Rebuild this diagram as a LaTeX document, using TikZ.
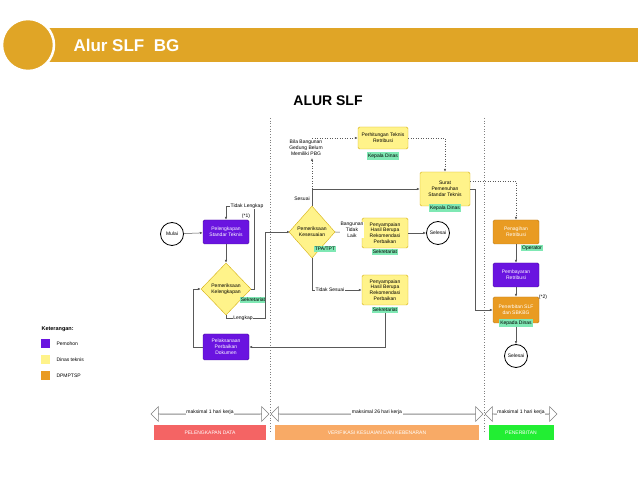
\documentclass[tikz,border=0pt]{standalone}
\usepackage{fontspec}
\setmainfont{Liberation Sans}
\usetikzlibrary{shapes.geometric,shapes.arrows,arrows.meta}
\definecolor{gold}{HTML}{E0A526}
\definecolor{purp}{HTML}{6A14E0}
\definecolor{yel}{HTML}{FFF38A}
\definecolor{yelb}{HTML}{D4AE10}
\definecolor{grn}{HTML}{7FE8B4}
\definecolor{org}{HTML}{E99B22}
\definecolor{redb}{HTML}{F46464}
\definecolor{orgb}{HTML}{F8AA66}
\definecolor{grnb}{HTML}{22EE33}
\begin{document}
\begin{tikzpicture}[x=1pt,y=-1pt,
 txt/.style={font=\fontsize{5}{5.8}\selectfont,align=center},
 pbox/.style={txt,rectangle,rounded corners=1.5pt,fill=purp,draw=purp!70!black,text=white,minimum width=46pt,inner sep=1pt},
 ybox/.style={txt,rectangle,rounded corners=1.5pt,fill=yel,draw=yelb,minimum width=50pt,inner sep=1pt},
 obox/.style={txt,rectangle,rounded corners=1.5pt,fill=org,draw=org!80!black,text=white,minimum width=46pt,inner sep=1pt},
 dia/.style={txt,diamond,fill=yel,draw=yelb,aspect=0.95,inner sep=0pt},
 tag/.style={txt,fill=grn,inner sep=1.2pt},
 circ/.style={txt,circle,draw,thick,fill=white,minimum size=23pt,inner sep=0pt},
 ln/.style={draw=gray!70!black,line width=0.5pt},
 ar/.style={ln,-{Latex[length=3pt,width=2.5pt]}},
 dar/.style={ar,dotted},
 lab/.style={txt,fill=white,inner sep=0.5pt},
 vd/.style={draw=gray,dotted,line width=0.7pt},
 harrow/.style={single arrow,double arrow,draw=gray,fill=white,minimum height=#1,minimum width=13pt,single arrow head extend=2pt,inner sep=0pt,anchor=center},
 bar/.style={txt,text=white,minimum height=15pt,inner sep=0pt}]
\useasboundingbox (0,0) rectangle (638,478);
% banner
\fill[gold] (45,28) rectangle (638,62);
\node[circle,fill=gold,draw=white,line width=2.5pt,minimum size=52pt] (c0) at (28,45) {};
\node[anchor=west,text=white,font=\bfseries\fontsize{17}{20}\selectfont] (ttl) at (70,45) {Alur SLF\ \ BG};
\node[font=\bfseries\fontsize{14}{16}\selectfont] (t2) at (328,101) {ALUR SLF};
% lanes
\draw[vd] (270,118) -- (270,432);
\draw[vd] (484,118) -- (484,432);
% left lane
\node[circ] (mulai) at (172,234) {Mulai};
\node[pbox,minimum height=24pt] (pel) at (226,232) {Pelengkapan\\Standar Teknis};
\node[dia,minimum width=50pt,minimum height=52pt] (d1) at (226,289) {Pemeriksaan\\Kelengkapan};
\node[tag] (s1) at (253,300) {Sekretariat};
\node[pbox,minimum height=26pt] (plk) at (226,347) {Pelaksanaan\\Perbaikan\\Dokumen};
\node[txt] (n1) at (246,216) {(*1)};
\draw[ar] (mulai) -- (pel);
\draw[ar] (pel) -- (d1);
\coordinate (a1) at (254,206);
\draw[ar] (d1.east) -| (a1) -- (226,206) -- (pel.north);
\node[lab,anchor=west] (tl) at (230,206) {Tidak Lengkap};
\draw[ar] (d1.south) -- (226,318) -- (265,318) |- (290,232);
\node[lab] (lk) at (243,318) {Lengkap};
\draw[ar] (plk.west) -- (193,347) |- (d1.west);
% middle
\node[dia,minimum width=46pt,minimum height=52pt] (d2) at (312,232) {Pemeriksaan\\Kesesuaian};
\node[tag] (tp) at (325,249) {TPA/TPT};
\node[ybox,minimum height=22pt] (ph) at (383,138) {Perhitungan Teknis\\Retribusi};
\node[tag] (kd1) at (383,156) {Kepala Dinas};
\node[ybox,minimum height=34pt] (srt) at (445,189) {Surat\\Pemenuhan\\Standar Teknis};
\node[tag] (kd2) at (445,208) {Kepala Dinas};
\node[ybox,minimum width=46pt,minimum height=30pt] (py1) at (385,233) {Penyampaian\\Hasil Berupa\\Rekomendasi\\Perbaikan};
\node[tag] (s2) at (385,252) {Sekretariat};
\node[circ] (sel1) at (438,233) {Selesai};
\node[ybox,minimum width=46pt,minimum height=30pt] (py2) at (385,290) {Penyampaian\\Hasil Berupa\\Rekomendasi\\Perbaikan};
\node[tag] (s3) at (385,310) {Sekretariat};
\draw[ar] (d2.north) -- (312,189) -- (srt.west);
\node[lab] (ss) at (302,199) {Sesuai};
\draw[dar] (312,189) -- (312,158);
\node[txt] (bb) at (306,148) {Bila Bangunan\\Gedung Belum\\Memiliki PBG};
\draw[dar] (312,138) -- (ph.west);
\draw[dar] (ph.east) -| (srt.north);
\draw[ar] (d2.east) -- (py1.west);
\node[lab] (btl) at (352,230) {Bangunan\\Tidak\\Laik};
\draw[ar] (py1.east) -- (sel1.west);
\draw[ar] (d2.south) |- (py2.west);
\node[lab] (ts) at (330,290) {Tidak Sesuai};
\draw[ar] (s3.south) |- (plk.east);
% right
\node[obox,minimum height=24pt] (pn) at (516,232) {Penagihan\\Retribusi};
\node[tag] (op) at (532,248) {Operator};
\node[pbox,minimum height=24pt] (pb) at (516,275) {Pembayaran\\Retribusi};
\node[obox,minimum height=26pt] (pt) at (516,310) {Penerbitan SLF\\dan SBKBG};
\node[tag] (kd3) at (516,323) {Kepada Dinas};
\node[txt] (n2) at (543,297) {(*2)};
\node[circ] (sel2) at (516,356) {Selesai};
\draw[dar] (srt.east |- 0,181) -- (516,181) -- (pn.north);
\draw[ar] (pn) -- (pb);
\draw[ar] (pb) -- (pt);
\draw[ar] (srt.east) -- (475,189) |- (pt.west);
\draw[ar] (kd3.south) -- (sel2.north);
% legend
\node[anchor=west,font=\bfseries\fontsize{5.5}{6}\selectfont] (kt) at (38,329) {Keterangan:};
\node[fill=purp,minimum size=9pt,inner sep=0pt] (l1) at (45,344) {};
\node[fill=yel,minimum size=9pt,inner sep=0pt] (l2) at (45,360) {};
\node[fill=org,minimum size=9pt,inner sep=0pt] (l3) at (45,376) {};
\node[txt,anchor=west] (lt1) at (53,344) {Pemohon};
\node[txt,anchor=west] (lt2) at (53,360) {Dinas teknis};
\node[txt,anchor=west] (lt3) at (53,376) {DPMPTSP};
% bottom
\node[harrow=118pt] (h1) at (210,414) {};
\node[harrow=212pt] (h2) at (377,414) {};
\node[harrow=72pt] (h3) at (521,414) {};
\draw[gray!60,line width=0.4pt] (160,414) -- (260,414) (280,414) -- (475,414) (494,414) -- (550,414);
\node[lab] at (210,412) {maksimal 1 hari kerja};
\node[lab] at (377,412) {maksimal 26 hari kerja};
\node[lab] at (521,412) {maksimal 1 hari kerja};
\node[bar,fill=redb,minimum width=112pt] (b1) at (210,433) {PELENGKAPAN DATA};
\node[bar,fill=orgb,minimum width=204pt] (b2) at (377,433) {VERIFIKASI KESUAIAN DAN KEBENARAN};
\node[bar,fill=grnb,minimum width=65pt] (b3) at (521,433) {PENERBITAN};
\end{tikzpicture}
\end{document}
